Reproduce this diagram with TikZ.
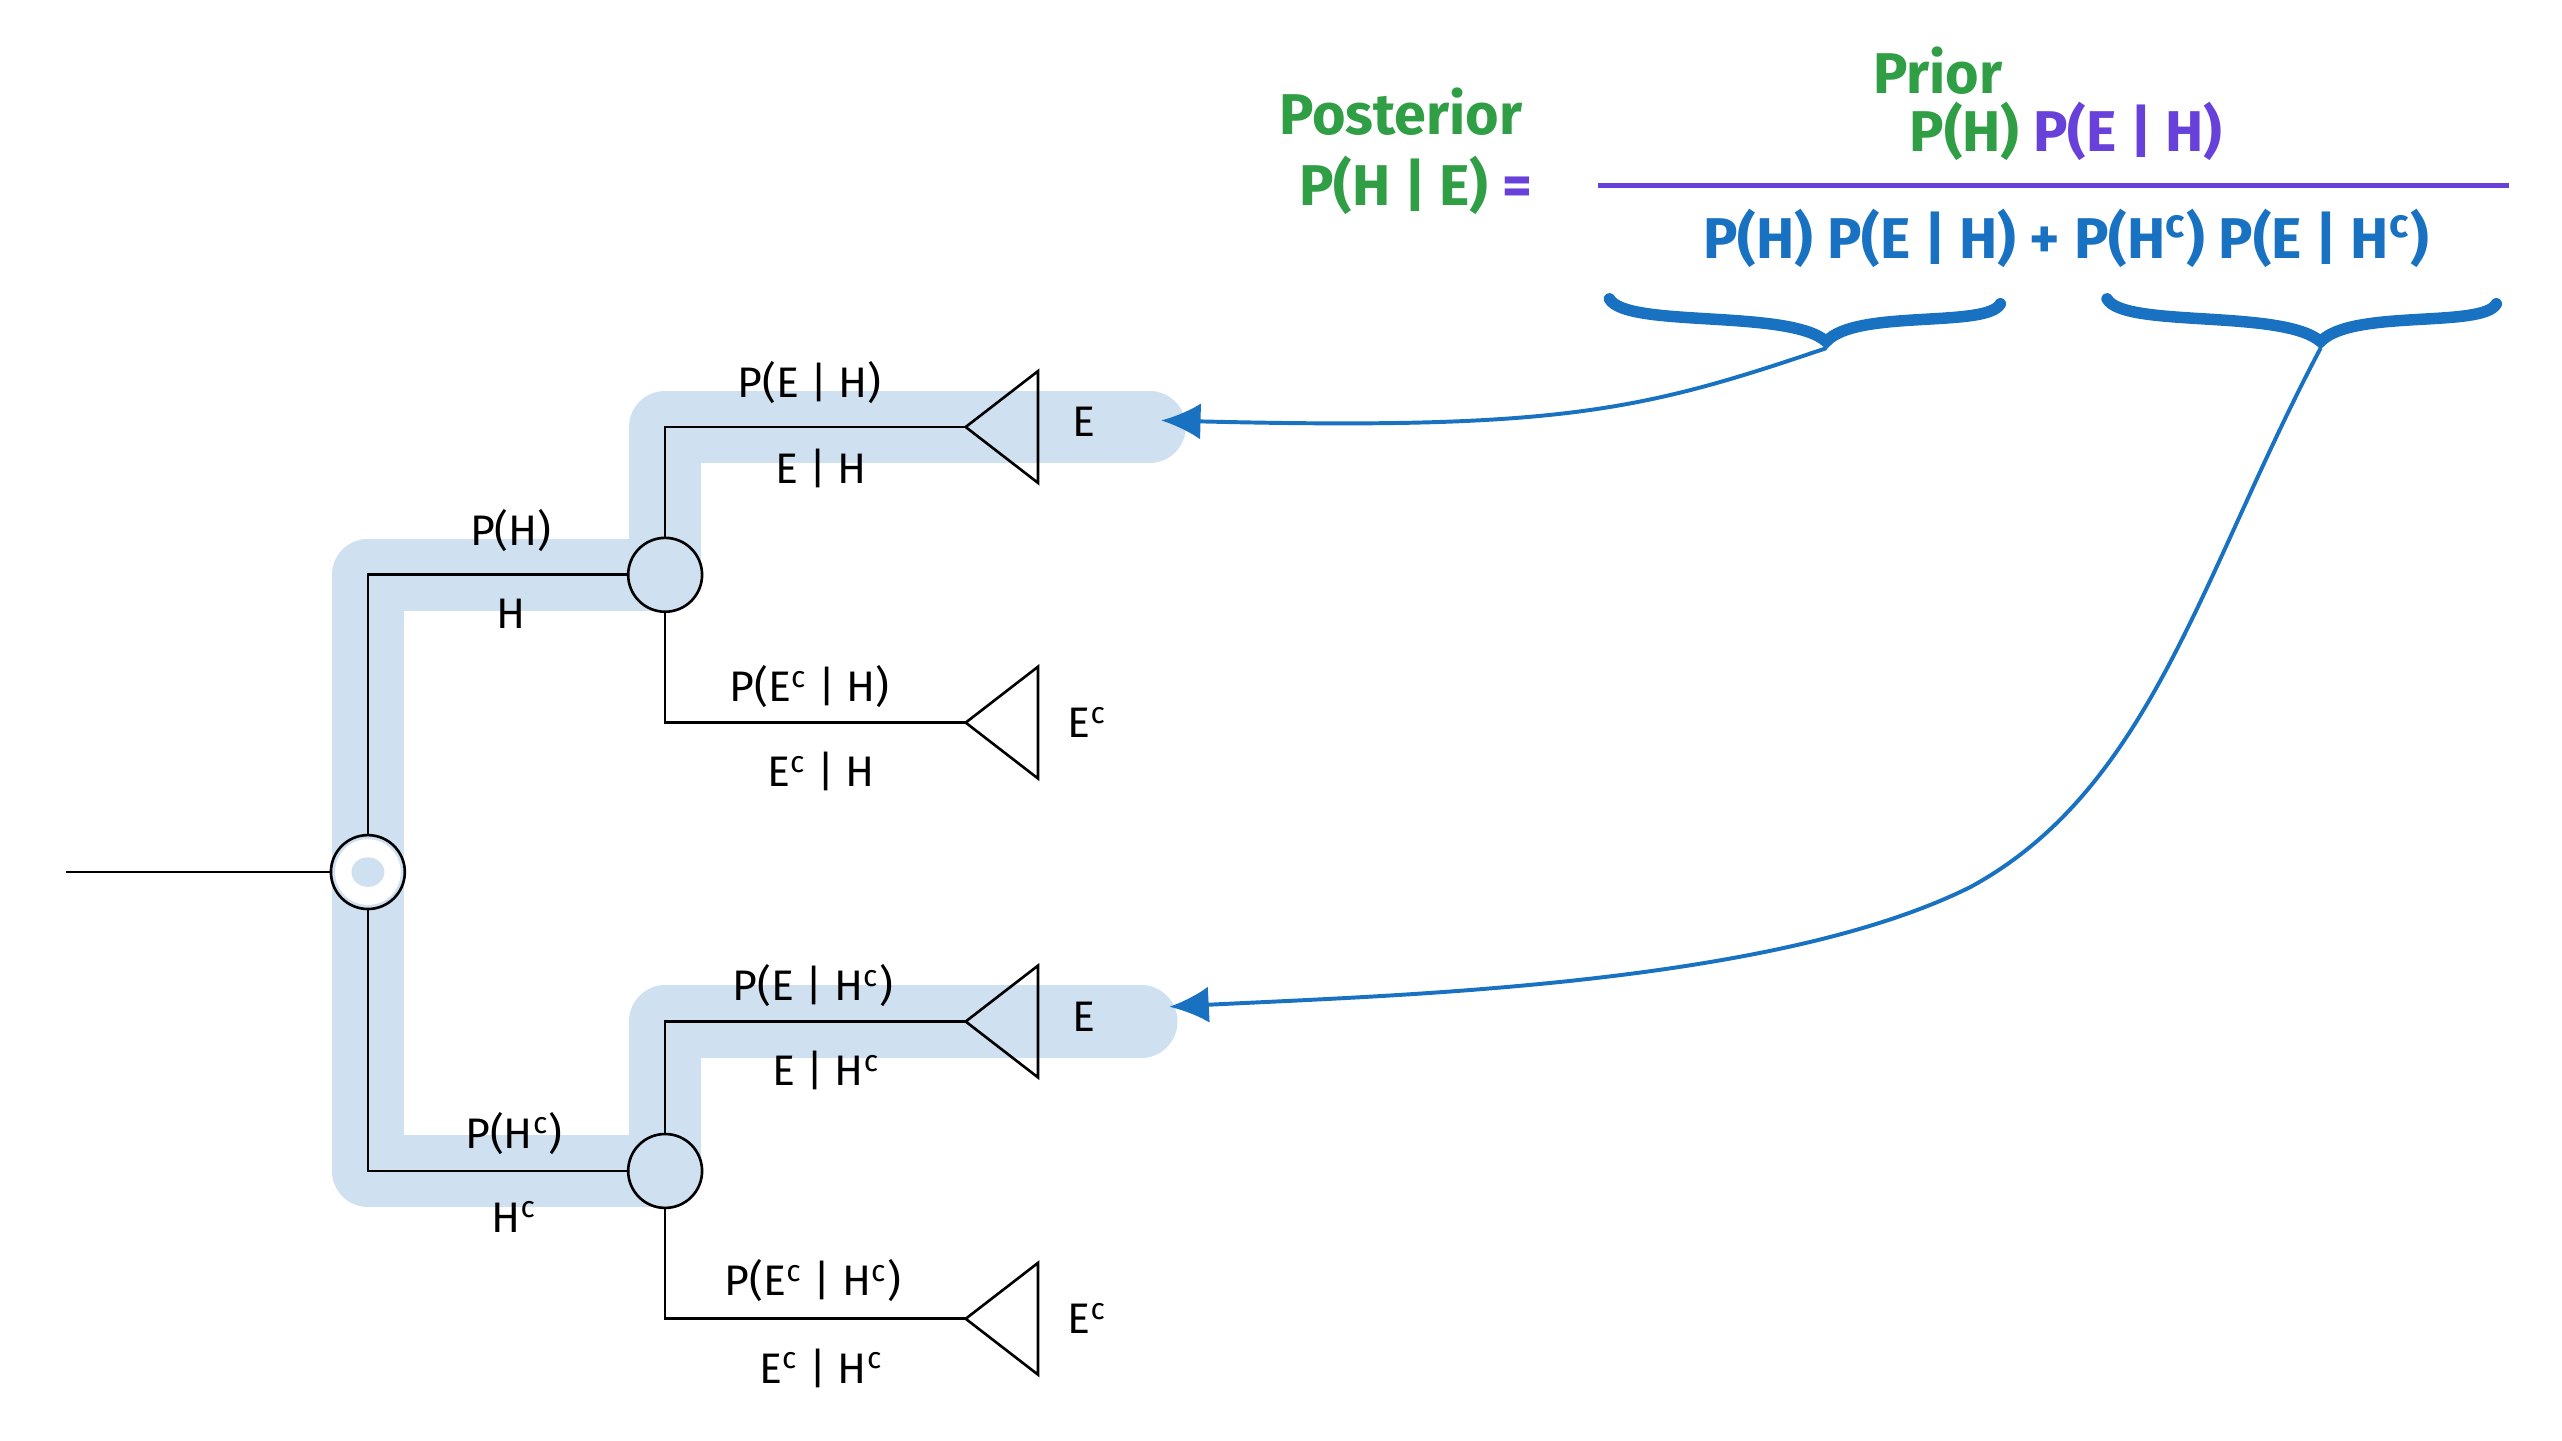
\documentclass[tikz,border=0pt]{standalone}
\usepackage{fontspec}
\setmainfont{Fira Sans}
\usetikzlibrary{arrows.meta}
\definecolor{hl}{HTML}{CFE0F0}
\definecolor{grn}{HTML}{2F9E44}
\definecolor{pur}{HTML}{6741D9}
\definecolor{blu}{HTML}{1971C2}
\begin{document}
\begin{tikzpicture}[x=0.5pt,y=-0.5pt,
  lbl/.style={font=\fontsize{13}{15}\selectfont},
  fl/.style={font=\fontsize{17.5}{19}\selectfont\bfseries},
  chance/.style={circle,draw,line width=0.8pt,minimum size=22.5pt,inner sep=0,fill=none},
  hlp/.style={hl,line width=22pt,line join=round,line cap=round},
  tree/.style={line width=0.8pt},
  brace/.style={blu,line width=3.5pt,line cap=round},
  arr/.style={blu,line width=1.2pt,-{Latex[length=12pt,width=11pt]}}]
\useasboundingbox (0,0) rectangle (1560,877);
% highlights
\draw[hlp] (224,531) -- (224,350) -- (405,350) -- (405,260) -- (700,260);
\draw[hlp] (224,531) -- (224,713) -- (405,713) -- (405,622) -- (695,622);
\fill[white] (224,531) circle (20);
\fill[hl] (224,531) ellipse (10 and 9);
% nodes
\coordinate (start) at (40,531);
\node[chance] (r) at (224,531) {};
\node[chance] (a) at (405,350) {};
\node[chance] (b) at (405,713) {};
\coordinate (t1) at (588,260);
\coordinate (t2) at (588,440);
\coordinate (t3) at (588,622);
\coordinate (t4) at (588,803);
\foreach \t in {t1,t2,t3,t4}{\draw[tree] (\t) -- ++(44,-34) -- ++(0,68) -- cycle;}
\draw[tree] (start) -- (r.west);
\draw[tree] (r.north) |- (a.west);
\draw[tree] (r.south) |- (b.west);
\draw[tree] (a.north) |- (t1);
\draw[tree] (a.south) |- (t2);
\draw[tree] (b.north) |- (t3);
\draw[tree] (b.south) |- (t4);
% labels
\node[lbl] (l1) at (311,323) {P(H)};
\node[lbl] (l2) at (311,374) {H};
\node[lbl] (l3) at (493,233) {P(E | H)};
\node[lbl] (l4) at (500,285) {E | H};
\node[lbl] (e1) at (660,257) {E};
\node[lbl] (l5) at (493,418) {P(E$^{\mathrm{c}}$ | H)};
\node[lbl] (l6) at (500,470) {E$^{\mathrm{c}}$ | H};
\node[lbl] (e2) at (662,440) {E$^{\mathrm{c}}$};
\node[lbl] (l7) at (313,690) {P(H$^{\mathrm{c}}$)};
\node[lbl] (l8) at (313,741) {H$^{\mathrm{c}}$};
\node[lbl] (l9) at (495,600) {P(E | H$^{\mathrm{c}}$)};
\node[lbl] (l10) at (503,652) {E | H$^{\mathrm{c}}$};
\node[lbl] (e3) at (660,619) {E};
\node[lbl] (l11) at (495,780) {P(E$^{\mathrm{c}}$ | H$^{\mathrm{c}}$)};
\node[lbl] (l12) at (500,833) {E$^{\mathrm{c}}$ | H$^{\mathrm{c}}$};
\node[lbl] (e4) at (662,803) {E$^{\mathrm{c}}$};
% formula
\node[fl,grn] (post) at (853,68) {Posterior};
\node[fl] (phe) at (862,113) {\textcolor{grn}{P(H | E)} \textcolor{pur}{=}};
\node[fl,grn] (prior) at (1180,43) {Prior};
\node[fl] (num) at (1258,80) {\textcolor{grn}{P(H)} \textcolor{pur}{P(E | H)}};
\draw[pur,line width=1.5pt] (973,113) -- (1528,113);
\node[fl,blu] (den) at (1258,145) {P(H) P(E | H) + P(H$^{\mathbf{c}}$) P(E | H$^{\mathbf{c}}$)};
% braces
\draw[brace] (980,182) .. controls (990,200) and (1090,188) .. (1112,208) .. controls (1130,188) and (1210,200) .. (1218,185);
\draw[brace] (1283,182) .. controls (1293,200) and (1390,188) .. (1413,208) .. controls (1432,188) and (1512,200) .. (1520,185);
\coordinate (b1) at (1112,212);
\coordinate (b2) at (1413,212);
\draw[arr] (b1) .. controls (1000,250) and (950,262) .. (707,256);
\draw[arr] (b2) .. controls (1340,350) and (1310,480) .. (1200,540) .. controls (1080,600) and (850,606) .. (712,613);
\end{tikzpicture}
\end{document}
